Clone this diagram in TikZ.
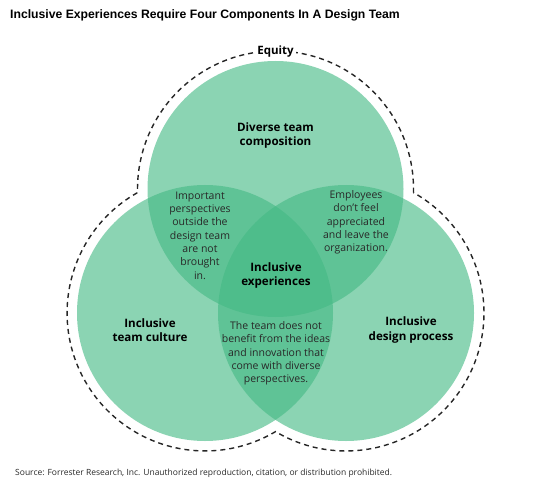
\documentclass[tikz,border=0pt]{standalone}
\usepackage{fontspec}
\usetikzlibrary{calc}
\setmainfont{Open Sans}
\newfontfamily\titlefont{Liberation Sans}
\definecolor{vgreen}{RGB}{68,185,132}
\definecolor{txtgray}{RGB}{40,40,40}
\begin{document}
\begin{tikzpicture}[x=1pt,y=1pt,
  vcircle/.style={fill=vgreen, fill opacity=0.62},
  smalltxt/.style={align=center, text=txtgray, font=\fontsize{10.5}{13.3}\selectfont, inner sep=0pt},
  boldtxt/.style={align=center, text=black, font=\bfseries\fontsize{11.6}{14.5}\selectfont, inner sep=0pt},
  outline/.style={draw=black!85, line width=1.4pt, dash pattern=on 5pt off 4pt}]
\useasboundingbox (0,0) rectangle (543,480);
\coordinate (T) at (275.5,291);
\coordinate (L) at (205,167);
\coordinate (R) at (346,167);
% circles
\fill[vcircle] (T) circle (128);
\fill[vcircle] (L) circle (128);
\fill[vcircle] (R) circle (128);
% dashed outline (union of enlarged circles)
\draw[outline] ($(T)+(-1.5:138)$) arc[start angle=-1.5, end angle=181.5, radius=138]
  arc[start angle=119.3, end angle=300.7, radius=138]
  arc[start angle=239.3, end angle=420.7, radius=138] -- cycle;
\node[fill=white, inner sep=2pt, font=\bfseries\fontsize{11.5}{12}\selectfont] (eq) at (275.5,428) {Equity};
% texts
\node[boldtxt] (top) at (275.5,344.5) {Diverse team\\composition};
\node[boldtxt] (left) at (150,150) {Inclusive\\team culture};
\node[boldtxt] (right) at (411,150) {Inclusive\\design process};
\node[boldtxt] (mid) at (276,204.5) {Inclusive\\experiences};
\node[smalltxt] (tl) at (200,244.5) {Important\\perspectives\\outside the\\design team\\are not\\brought\\in.};
\node[smalltxt] (tr) at (356,257.5) {Employees\\don't feel\\appreciated\\and leave the\\organization.};
\node[smalltxt] (bt) at (276,126.5) {The team does not\\benefit from the ideas\\and innovation that\\come with diverse\\perspectives.};
\node[anchor=west, inner sep=0pt, font=\titlefont\bfseries\fontsize{12.2}{14}\selectfont] (title) at (10,465) {Inclusive Experiences Require Four Components In A Design Team};
\node[anchor=west, inner sep=0pt, text=txtgray, font=\fontsize{8.5}{10}\selectfont] (src) at (15,7) {Source: Forrester Research, Inc. Unauthorized reproduction, citation, or distribution prohibited.};
\end{tikzpicture}
\end{document}
